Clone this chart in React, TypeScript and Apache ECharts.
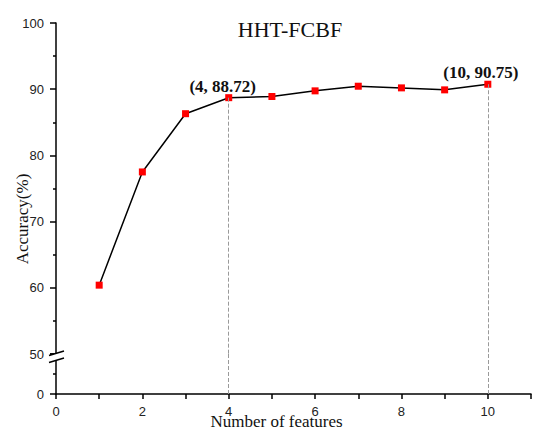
import React, { useEffect, useRef } from "react";
import * as echarts from "echarts";

const features = [1, 2, 3, 4, 5, 6, 7, 8, 9, 10];
const accuracy = [60.4, 77.5, 86.3, 88.72, 88.9, 89.75, 90.45, 90.2, 89.9, 90.75];
const highlighted = [4, 10];
const titleText = "HHT-FCBF";
const xName = "Number of features";
const yName = "Accuracy(%)";

const serif = "'Times New Roman', 'Liberation Serif', serif";
const sans = "Arial, 'Liberation Sans', sans-serif";

export default function App() {
  const ref = useRef<HTMLDivElement>(null);
  useEffect(() => {
    document.body.style.margin = "0";
    if (!ref.current) return;
    const chart = echarts.init(ref.current, undefined, { renderer: "svg" });
    const data = features.map((f, i) => {
      const v = accuracy[i];
      if (highlighted.includes(f)) {
        return {
          value: [f, v],
          label: {
            show: true,
            position: "top",
            distance: 0,
            offset: f === 4 ? [-6, 1] : [-7, 0],
            formatter: `(${f}, ${v.toFixed(2)})`,
            fontFamily: serif,
            fontWeight: "bold",
            fontSize: 17,
            color: "#111",
          },
        };
      }
      return { value: [f, v] };
    });
    const topLines = highlighted.map((f) => {
      const v = accuracy[features.indexOf(f)];
      return [{ coord: [f, v] }, { coord: [f, 50] }];
    });
    const bottomLines = highlighted.map((f) => [{ coord: [f, 50] }, { coord: [f, 0] }]);
    const markLineBase = {
      silent: true,
      symbol: "none",
      label: { show: false },
      lineStyle: { color: "#9a9a9a", type: "dashed", width: 1 },
      animation: false,
    };
    const axisLineStyle = { lineStyle: { color: "#000", width: 1.5 } };
    chart.setOption({
      animation: false,
      title: {
        text: titleText,
        left: 285,
        top: 13,
        textAlign: "center",
        textStyle: { fontFamily: serif, fontSize: 22, fontWeight: "normal", color: "#111" },
      },
      grid: [
        { left: 56, right: 19, top: 23, bottom: 88 },
        { left: 56, right: 19, top: 354, bottom: 48 },
      ],
      xAxis: [
        {
          gridIndex: 0,
          type: "value",
          min: 0,
          max: 11,
          show: false,
        },
        {
          gridIndex: 1,
          type: "value",
          min: 0,
          max: 11,
          interval: 1,
          axisLine: axisLineStyle,
          axisTick: { show: true, length: 5, lineStyle: { color: "#000", width: 1.5 } },
          axisLabel: {
            margin: 11,
            fontFamily: sans,
            fontSize: 13,
            color: "#222",
            formatter: (v: number) => (v % 2 === 0 && v <= 10 ? String(v) : ""),
          },
          splitLine: { show: false },
          name: xName,
          nameLocation: "middle",
          nameGap: 19,
          nameMoveOverlap: false,
          nameTextStyle: { fontFamily: serif, fontSize: 17, color: "#111", padding: [0, 34, 0, 0] },
        },
      ],
      yAxis: [
        {
          gridIndex: 0,
          type: "value",
          min: 50,
          max: 100,
          interval: 10,
          axisLine: { show: true, ...axisLineStyle },
          axisTick: { show: true, length: 6, lineStyle: { color: "#000", width: 1.5 } },
          minorTick: { show: true, splitNumber: 2, length: 3, lineStyle: { color: "#000", width: 1.5 } },
          axisLabel: { margin: 12, fontFamily: sans, fontSize: 13, color: "#222" },
          splitLine: { show: false },
        },
        {
          gridIndex: 1,
          type: "value",
          min: 0,
          max: 50,
          interval: 50,
          axisLine: { show: true, ...axisLineStyle },
          axisTick: { show: true, length: 6, lineStyle: { color: "#000", width: 1.5 } },
          minorTick: { show: true, splitNumber: 2, length: 3, lineStyle: { color: "#000", width: 1.5 } },
          axisLabel: {
            margin: 12,
            fontFamily: sans,
            fontSize: 13,
            color: "#222",
            formatter: (v: number) => (v === 0 ? "0" : ""),
          },
          splitLine: { show: false },
        },
      ],
      series: [
        {
          type: "line",
          xAxisIndex: 0,
          yAxisIndex: 0,
          data,
          symbol: "rect",
          symbolSize: 7,
          itemStyle: { color: "#ff0000" },
          lineStyle: { color: "#000", width: 1.5 },
          markLine: { ...markLineBase, data: topLines },
          z: 3,
        },
        {
          type: "line",
          xAxisIndex: 1,
          yAxisIndex: 1,
          data: [],
          markLine: { ...markLineBase, data: bottomLines },
        },
      ],
      graphic: [
        {
          type: "text",
          x: 22,
          y: 219,
          rotation: Math.PI / 2,
          style: {
            text: yName,
            font: `17px ${serif}`,
            fill: "#111",
            align: "center",
            verticalAlign: "middle",
          },
        },
        {
          type: "polygon",
          shape: { points: [[49, 355.5], [64, 351], [64, 358], [49, 362.5]] },
          style: { fill: "#fff" },
          z: 100,
        },
        {
          type: "line",
          shape: { x1: 49, y1: 355.5, x2: 64, y2: 351 },
          style: { stroke: "#000", lineWidth: 1.5 },
          z: 101,
        },
        {
          type: "line",
          shape: { x1: 49, y1: 362.5, x2: 64, y2: 358 },
          style: { stroke: "#000", lineWidth: 1.5 },
          z: 101,
        },
      ],
    });
    return () => chart.dispose();
  }, []);
  return <div ref={ref} style={{ width: 550, height: 442 }} />;
}
